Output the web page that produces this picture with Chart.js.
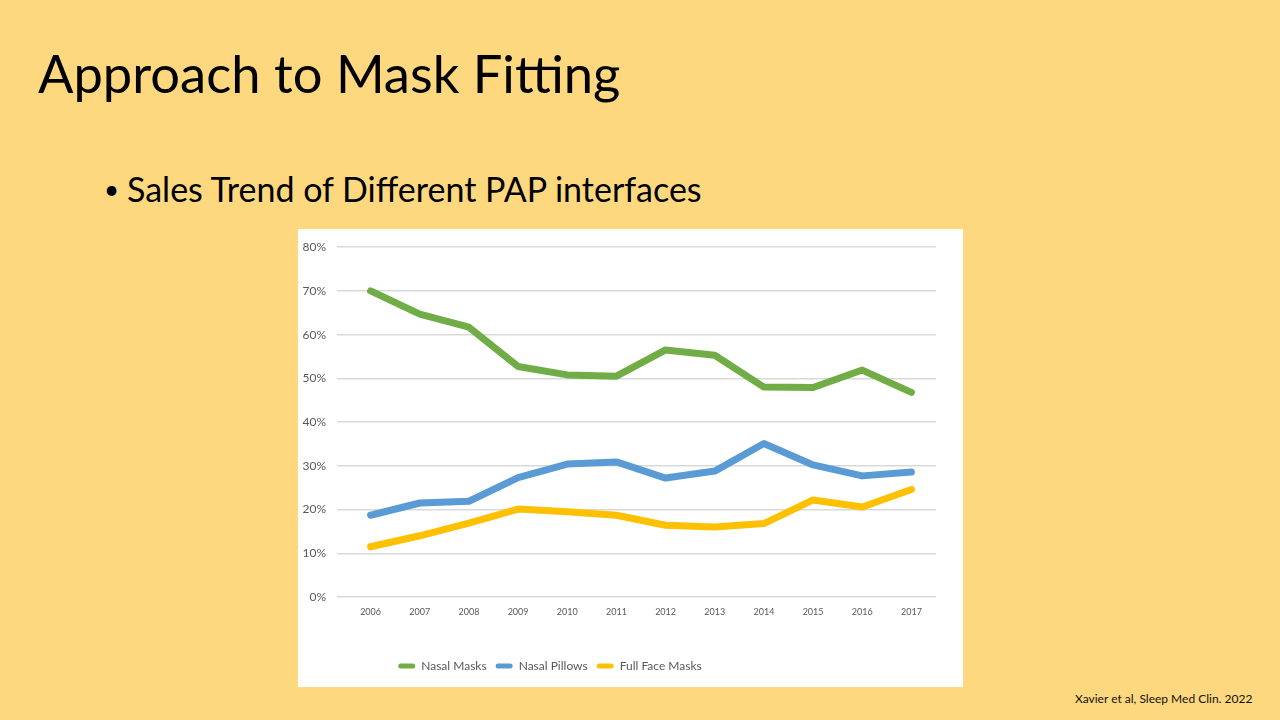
<!DOCTYPE html>
<html>
<head>
<meta charset="utf-8">
<script src="https://cdn.jsdelivr.net/npm/chart.js@4.4.1/dist/chart.umd.min.js"></script>
<style>
  html, body { margin:0; padding:0; }
  body { width:1280px; height:720px; background:#FED87F; position:relative; overflow:hidden; font-family: Lato, "Open Sans", sans-serif; }
  #title { position:absolute; left:38px; top:41px; font-size:52.5px; color:#000; font-family: Lato, sans-serif; white-space:nowrap; }
  #bullet { position:absolute; left:104px; top:168px; font-size:34px; color:#000; font-family: Lato, sans-serif; white-space:nowrap; }
  #bullet .dot { display:inline-block; width:23px; font-size:26px; vertical-align:3px; }
  #box { position:absolute; left:298px; top:229px; width:665px; height:458px; background:#fff; }
  #foot { position:absolute; left:1075px; top:691px; font-size:12px; color:#111; font-family: Lato, sans-serif; white-space:nowrap; }
</style>
</head>
<body>
<div id="title">Approach to Mask Fitting</div>
<div id="bullet"><span class="dot">•</span>Sales Trend of Different PAP interfaces</div>
<div id="box"><canvas id="c" width="665" height="458"></canvas></div>
<div id="foot">Xavier et al, Sleep Med Clin. 2022</div>
<script>
const years = ['2006','2007','2008','2009','2010','2011','2012','2013','2014','2015','2016','2017'];
const nasalMasks   = [70.0, 64.7, 61.7, 52.7, 50.8, 50.5, 56.5, 55.3, 48.0, 47.9, 51.9, 46.8];
const nasalPillows = [18.7, 21.5, 21.9, 27.3, 30.4, 30.9, 27.2, 28.8, 35.1, 30.2, 27.7, 28.6];
const fullFace     = [11.5, 14.0, 16.9, 20.1, 19.5, 18.7, 16.4, 16.0, 16.8, 22.2, 20.6, 24.6];
const seriesNames  = ['Nasal Masks', 'Nasal Pillows', 'Full Face Masks'];
const seriesColors = ['#70AD47', '#5B9BD5', '#FFC000'];
const seriesData   = [nasalMasks, nasalPillows, fullFace];

const shiftLegend = {
  id: 'shiftLegend',
  afterLayout(chart) {
    const l = chart.legend;
    if (l) { l.left -= 134; }
  }
};

new Chart(document.getElementById('c'), {
  type: 'line',
  data: {
    labels: years,
    datasets: seriesData.map((d, i) => ({
      label: seriesNames[i],
      data: d,
      borderColor: seriesColors[i],
      backgroundColor: seriesColors[i],
      borderWidth: 7,
      pointRadius: 0,
      tension: 0,
      borderCapStyle: 'round',
      borderJoinStyle: 'round'
    }))
  },
  options: {
    responsive: false,
    animation: false,
    layout: { padding: { top: 17, right: 27, left: 0, bottom: 5 } },
    plugins: {
      tooltip: { enabled: false },
      legend: {
        position: 'bottom',
        labels: {
          boxWidth: 17, boxHeight: 5, padding: 9,
          color: '#595959',
          font: { family: 'Lato', size: 12 },
          generateLabels(chart) {
            return chart.data.datasets.map((ds, i) => ({
              text: ds.label, fillStyle: ds.borderColor, strokeStyle: ds.borderColor,
              lineWidth: 0, datasetIndex: i, borderRadius: 2.5, fontColor: '#595959'
            }));
          }
        }
      }
    },
    scales: {
      x: {
        offset: true,
        grid: { display: false },
        border: { display: false },
        ticks: { color: '#595959', font: { family: 'Lato', size: 9 }, padding: 2, maxRotation: 0 },
        afterFit(s) { s.height = 54; }
      },
      y: {
        min: 0, max: 80,
        grid: { color: '#D9D9D9', lineWidth: 1.5, drawTicks: true, tickLength: 9, tickColor: '#D9D9D9' },
        border: { display: false },
        ticks: { stepSize: 10, color: '#595959', font: { family: 'Lato', size: 12 }, padding: 11, callback: v => v + '%' },
        afterFit(s) { s.width = 48; }
      }
    }
  },
  plugins: [shiftLegend]
});
</script>
</body>
</html>
